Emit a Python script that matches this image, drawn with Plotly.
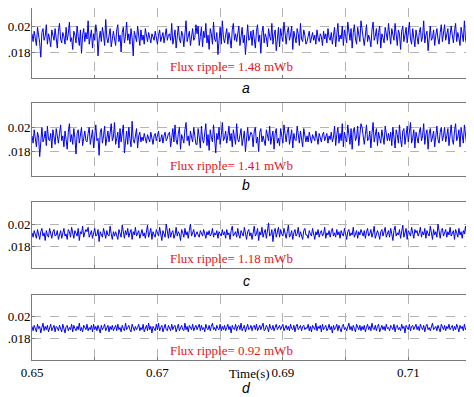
import numpy as np
import plotly.graph_objects as go

# ---------------- data (flux in mWb) ----------------
T_START, T_END = 0.65, 0.72

flux_a = [
    19.4, 18.8, 19.6, 19.1, 18.5, 19.9, 19.3, 18.7, 17.6, 19.5, 19.8, 18.9, 19.2, 20.1, 18.6, 19.4, 19.0, 18.4, 19.7, 19.3, 18.9, 19.8, 19.1, 18.3, 19.6,
    20.2, 19.0, 18.7, 19.5, 19.2, 18.6, 19.9, 18.9, 19.4, 20.3, 18.8, 19.1, 18.2, 19.6, 19.3, 18.7, 20.0, 19.2, 18.5, 19.7, 17.9, 19.3, 19.8, 18.8, 19.5,
    19.0, 20.4, 18.6, 19.2, 19.7, 18.3, 19.4, 18.9, 20.1, 19.5, 17.7, 19.0, 19.6, 18.8, 19.9, 19.3, 18.5, 20.5, 19.1, 18.7, 19.4, 19.8, 18.4, 19.2, 19.6,
    19.0, 18.5, 19.7, 20.1, 18.8, 19.3, 18.0, 19.5, 19.9, 18.7, 19.2, 20.3, 18.9, 19.4, 18.6, 19.8, 19.1, 17.7, 19.6, 19.3, 18.8, 20.0, 19.2, 18.5, 19.7,
    18.9, 19.3, 18.6, 19.8, 19.1, 18.8, 19.5, 19.0, 18.7, 19.4, 19.2, 18.9, 19.6, 19.0, 18.6, 19.3, 19.7, 18.8, 19.1, 19.5, 18.7, 19.2, 19.8, 18.9, 19.3,
    19.4, 18.9, 20.2, 18.6, 19.1, 19.7, 18.3, 19.5, 20.0, 19.0, 18.7, 19.6, 19.3, 18.4, 19.9, 20.4, 18.8, 19.2, 19.6, 18.5, 19.4, 19.8, 18.9, 19.1, 20.1,
    19.4, 20.0, 18.5, 19.2, 19.9, 18.4, 19.6, 19.1, 20.2, 18.7, 19.3, 18.2, 19.8, 19.4, 18.6, 20.3, 19.0, 18.8, 19.5, 17.8, 19.2, 19.9, 18.6, 20.4, 19.1,
    18.7, 19.3, 19.8, 18.6, 19.5, 19.0, 18.3, 19.7, 20.2, 18.9, 19.4, 18.8, 19.6, 20.0, 18.5, 19.2, 19.9, 18.7, 19.3, 17.8, 19.5, 20.1, 18.9, 19.0, 19.6,
    18.5, 19.7, 19.0, 18.3, 19.6, 20.1, 18.8, 19.3, 17.9, 19.5, 20.0, 18.7, 19.4, 19.1, 18.4, 19.8, 19.2, 18.9, 20.2, 18.6, 19.3, 19.7, 18.1, 19.4, 19.9,
    18.4, 19.8, 19.2, 18.8, 20.3, 19.1, 18.6, 19.5, 19.9, 18.9, 19.3, 20.0, 18.2, 19.6, 19.1, 18.7, 19.8, 19.4, 18.5, 20.2, 19.0, 18.8, 19.7, 19.3, 18.6,
    18.8, 19.2, 19.6, 18.7, 19.0, 19.5, 18.9, 19.3, 18.6, 19.7, 19.1, 18.8, 19.4, 19.2, 18.5, 19.6, 19.0, 19.4, 18.7, 19.8, 19.1, 18.9, 19.5, 18.6, 19.3,
    19.9, 18.4, 19.6, 20.2, 18.8, 19.3, 19.0, 20.0, 18.5, 19.7, 19.2, 18.7, 20.3, 19.4, 18.9, 19.8, 18.3, 19.5, 20.1, 19.0, 18.6, 19.9, 19.3, 18.8, 20.4,
    19.9, 19.1, 18.5, 19.6, 20.1, 18.8, 19.3, 19.0, 18.4, 19.7, 20.3, 18.9, 19.2, 19.8, 18.6, 19.5, 20.0, 18.3, 19.4, 19.1, 18.7, 19.9, 19.3, 18.9, 20.2,
    19.1, 18.6, 19.8, 19.3, 18.9, 20.2, 19.0, 18.5, 19.7, 19.4, 18.2, 19.6, 20.0, 18.8, 19.3, 19.9, 18.7, 19.5, 20.3, 19.0, 18.6, 19.8, 19.2, 18.4, 19.7,
    19.0, 18.6, 19.5, 19.9, 18.8, 19.2, 20.4, 18.7, 19.3, 19.6, 18.1, 19.4, 20.0, 18.9, 19.1, 19.7, 18.5, 19.3, 19.8, 19.0, 18.6, 19.5, 20.1, 18.8, 19.4,
    20.1, 18.9, 19.4, 19.8, 18.6, 19.2, 20.0, 19.3, 18.7, 19.6, 20.2, 18.8, 19.5, 19.1, 18.5, 19.9, 19.3, 18.8, 20.4, 19.0, 18.6, 19.7, 19.4, 18.9, 19.5,
]

flux_b = [
    19.3, 18.7, 19.8, 19.0, 18.4, 19.6, 19.2, 17.6, 19.4, 20.0, 18.8, 19.1, 19.7, 18.5, 20.1, 19.0, 18.9, 19.5, 18.3, 19.8, 19.2, 18.6, 19.9, 19.0, 18.7,
    19.5, 20.2, 18.9, 19.3, 18.4, 19.7, 19.0, 18.2, 19.6, 20.3, 18.8, 19.4, 18.6, 19.9, 19.1, 17.8, 19.5, 19.8, 18.7, 19.2, 20.0, 18.5, 19.3, 19.7, 18.9,
    18.8, 19.5, 20.0, 18.6, 19.2, 19.8, 18.3, 19.4, 20.2, 18.9, 19.1, 17.7, 19.6, 19.9, 18.7, 19.3, 20.1, 18.5, 19.0, 19.7, 18.8, 19.4, 20.3, 18.9, 19.2,
    20.4, 18.6, 19.1, 19.6, 18.3, 19.9, 18.8, 19.4, 20.2, 17.9, 19.2, 19.7, 18.6, 20.0, 19.1, 18.4, 20.5, 19.0, 18.7, 19.5, 19.9, 18.3, 19.3, 19.6, 18.8,
    19.2, 18.9, 19.5, 19.0, 18.7, 19.4, 19.1, 18.8, 19.6, 19.0, 18.6, 19.3, 19.5, 18.9, 19.2, 19.7, 18.8, 19.0, 19.4, 18.7, 19.3, 19.6, 18.9, 19.1, 19.5,
    19.6, 18.4, 19.3, 19.9, 18.8, 20.2, 19.0, 18.6, 19.5, 20.0, 18.2, 19.4, 19.1, 18.7, 19.8, 20.4, 18.9, 19.3, 18.5, 19.7, 19.2, 18.8, 20.0, 19.4, 18.6,
    18.6, 19.9, 19.2, 18.3, 20.1, 19.0, 18.7, 19.6, 20.3, 18.5, 19.4, 18.1, 19.8, 19.2, 18.8, 20.2, 19.1, 17.9, 19.5, 19.0, 20.0, 18.6, 19.3, 20.4, 18.9,
    19.1, 19.7, 18.7, 19.3, 20.1, 18.9, 19.5, 18.4, 19.8, 19.2, 18.6, 20.3, 19.0, 18.8, 19.6, 19.9, 18.5, 19.2, 19.7, 18.0, 19.4, 20.0, 18.9, 19.3, 19.6,
    19.4, 18.4, 19.7, 20.0, 18.7, 19.2, 18.0, 19.6, 19.9, 18.8, 19.3, 19.0, 18.5, 19.8, 19.4, 18.9, 20.1, 18.6, 19.2, 19.7, 18.2, 19.5, 19.9, 18.7, 19.1,
    18.5, 19.9, 19.1, 18.7, 20.2, 19.3, 18.8, 19.6, 20.0, 18.6, 19.2, 19.8, 18.3, 19.5, 19.0, 18.9, 20.1, 19.4, 18.7, 19.7, 19.1, 18.4, 19.9, 19.2, 18.8,
    19.3, 18.8, 19.6, 19.0, 18.7, 19.4, 19.2, 18.9, 19.7, 19.1, 18.6, 19.5, 19.0, 18.8, 19.4, 19.6, 18.9, 19.2, 19.5, 18.7, 19.3, 19.0, 19.6, 18.8, 19.2,
    20.1, 18.5, 19.4, 20.0, 18.7, 19.5, 18.9, 20.3, 18.4, 19.6, 19.1, 18.8, 20.2, 19.3, 18.6, 19.9, 18.2, 19.7, 20.0, 18.9, 19.2, 20.1, 18.5, 19.4, 20.3,
    20.0, 19.2, 18.6, 19.4, 20.2, 18.9, 19.0, 19.7, 18.3, 19.5, 20.4, 18.8, 19.3, 19.9, 18.5, 19.6, 19.1, 18.7, 19.8, 19.2, 18.6, 20.1, 19.4, 18.9, 19.5,
    18.9, 19.6, 18.5, 20.0, 19.2, 18.3, 19.8, 19.4, 18.7, 20.2, 19.0, 18.4, 19.7, 19.9, 18.6, 19.3, 20.1, 18.8, 19.5, 20.4, 18.7, 19.1, 19.8, 18.3, 19.6,
    19.1, 18.7, 19.6, 20.0, 18.9, 19.3, 20.3, 18.6, 19.4, 19.8, 18.2, 19.5, 19.9, 18.8, 19.2, 19.7, 18.4, 19.4, 20.1, 19.0, 18.7, 19.6, 20.0, 18.9, 19.3,
    20.0, 18.8, 19.3, 19.9, 18.5, 19.4, 20.2, 19.0, 18.6, 19.7, 20.3, 18.9, 19.2, 19.8, 18.4, 20.0, 19.1, 18.7, 20.2, 19.3, 18.6, 19.6, 19.9, 18.8, 19.4,
]

flux_c = [
    19.2, 18.8, 19.4, 19.0, 18.7, 19.5, 19.1, 18.6, 19.3, 19.6, 18.9, 19.2, 18.5, 19.4, 19.0, 18.8, 19.6, 19.1, 18.7, 19.3, 19.5, 18.9, 19.0, 19.4, 18.6,
    19.0, 19.4, 18.7, 19.2, 19.6, 18.9, 19.1, 18.6, 19.5, 19.3, 18.8, 19.7, 19.0, 18.7, 19.4, 19.2, 18.9, 19.6, 18.5, 19.3, 19.1, 19.8, 18.8, 19.2, 19.5,
    19.3, 19.7, 18.8, 19.1, 19.4, 18.7, 19.2, 19.6, 18.9, 19.0, 19.5, 18.4, 19.3, 19.1, 18.8, 19.6, 19.2, 18.7, 19.4, 19.0, 18.9, 19.8, 19.1, 18.6, 19.3,
    18.9, 19.3, 19.0, 18.6, 19.5, 19.2, 18.8, 19.9, 19.1, 18.7, 19.4, 19.0, 19.6, 18.8, 19.2, 19.5, 18.6, 19.3, 19.0, 19.7, 18.9, 19.1, 19.4, 18.7, 19.3,
    19.5, 18.9, 19.2, 18.7, 19.4, 19.9, 18.8, 19.1, 19.6, 18.6, 19.3, 19.0, 18.8, 19.5, 19.2, 18.9, 19.7, 19.0, 18.5, 19.4, 19.1, 18.8, 20.0, 19.2, 18.7,
    19.6, 18.8, 19.2, 19.4, 18.7, 19.0, 19.7, 18.9, 19.3, 19.1, 18.5, 19.5, 19.2, 18.8, 19.6, 19.0, 19.3, 18.7, 19.4, 20.0, 18.9, 19.2, 19.5, 18.8, 19.1,
    19.3, 19.0, 18.8, 19.4, 19.1, 18.9, 19.5, 19.2, 18.7, 19.3, 19.0, 19.4, 18.9, 19.1, 19.6, 18.8, 19.2, 19.0, 19.4, 18.7, 19.3, 19.1, 18.9, 19.5, 19.0,
    19.3, 18.7, 19.5, 19.0, 19.2, 18.6, 19.4, 19.8, 18.9, 19.1, 19.3, 18.8, 19.6, 19.0, 18.7, 19.4, 19.2, 18.9, 19.7, 19.1, 18.6, 19.3, 19.5, 18.9, 19.2,
    18.6, 19.4, 19.8, 18.9, 19.1, 19.6, 18.5, 19.3, 19.0, 19.7, 18.8, 19.2, 19.5, 18.7, 19.4, 20.1, 18.9, 19.0, 19.5, 18.4, 19.3, 19.6, 18.8, 19.2, 19.7,
    18.8, 19.5, 19.1, 18.9, 19.6, 19.2, 18.7, 19.3, 19.9, 18.8, 19.0, 19.4, 18.6, 19.2, 19.5, 18.9, 19.1, 19.7, 18.8, 19.3, 19.0, 18.6, 19.4, 19.6, 19.0,
    19.0, 18.7, 19.4, 19.1, 18.9, 19.6, 19.2, 18.6, 19.3, 19.0, 19.5, 18.8, 19.2, 19.4, 18.9, 19.1, 19.7, 18.7, 19.2, 19.0, 19.4, 18.8, 19.3, 19.6, 18.9,
    19.2, 18.8, 19.5, 19.0, 19.3, 18.7, 19.4, 19.1, 18.9, 19.6, 19.0, 18.6, 19.3, 19.5, 18.9, 19.2, 19.0, 19.7, 18.8, 19.1, 19.4, 18.7, 19.3, 19.0, 19.5,
    19.2, 18.9, 19.4, 18.7, 19.3, 19.6, 18.9, 19.1, 19.5, 18.8, 19.2, 19.8, 18.7, 19.0, 19.4, 19.1, 18.6, 19.3, 19.5, 18.9, 19.2, 19.7, 18.8, 19.1, 19.4,
    18.8, 19.6, 19.1, 18.5, 19.4, 19.8, 18.9, 19.2, 19.0, 19.5, 18.7, 19.3, 19.9, 18.8, 19.1, 19.6, 18.6, 19.4, 19.2, 18.9, 19.7, 19.0, 18.7, 19.5, 19.2,
    19.4, 18.9, 19.2, 19.7, 18.8, 19.3, 19.0, 19.6, 18.7, 19.4, 19.1, 18.9, 19.8, 19.2, 18.6, 19.5, 19.0, 19.3, 18.8, 20.0, 19.1, 18.7, 19.4, 19.6, 18.9,
    19.2, 19.5, 18.8, 19.3, 19.0, 19.7, 18.9, 19.1, 19.4, 18.6, 19.5, 19.2, 18.8, 19.6, 19.0, 19.3, 18.7, 19.4, 19.1, 19.8, 18.9, 19.2, 19.5, 18.8, 19.3,
]

flux_d = [
    19.1, 18.7, 19.2, 18.8, 18.6, 19.3, 18.9, 19.1, 18.5, 19.0, 19.4, 18.7, 19.1, 18.8, 19.2, 18.6, 19.0, 19.3, 18.7, 18.9, 19.2, 18.6, 19.1, 19.0, 18.7,
    19.2, 18.8, 18.6, 19.3, 18.9, 18.5, 19.1, 19.2, 18.7, 19.0, 18.8, 19.3, 18.6, 19.2, 18.9, 18.7, 19.1, 18.8, 19.4, 18.7, 19.0, 18.6, 19.2, 19.0, 18.8,
    19.3, 18.7, 19.0, 18.8, 19.2, 18.6, 19.3, 18.8, 19.1, 18.7, 19.2, 18.9, 18.5, 19.2, 18.8, 19.0, 19.3, 18.7, 18.9, 19.2, 18.6, 19.1, 18.8, 19.2, 18.7,
    19.0, 19.2, 18.7, 19.3, 18.8, 19.0, 18.6, 19.2, 18.9, 18.7, 19.4, 18.8, 19.0, 19.2, 18.8, 18.6, 19.3, 18.9, 18.7, 19.1, 18.8, 19.0, 19.3, 18.7, 19.0,
    18.8, 19.3, 18.6, 19.0, 19.2, 18.7, 19.4, 18.8, 19.1, 18.5, 19.1, 18.9, 18.7, 19.3, 18.8, 19.4, 18.7, 19.0, 19.2, 18.6, 19.1, 19.3, 18.8, 18.7, 19.2,
    18.9, 18.7, 19.3, 18.8, 19.1, 19.2, 18.6, 19.0, 19.3, 18.7, 18.9, 19.2, 18.8, 18.7, 19.4, 18.8, 19.1, 18.6, 19.2, 18.9, 18.8, 19.3, 18.7, 19.0, 19.2,
    18.8, 19.1, 19.3, 18.7, 19.2, 18.8, 19.0, 18.6, 19.3, 18.9, 18.8, 19.2, 18.7, 19.1, 19.4, 18.8, 19.0, 18.7, 19.2, 18.9, 18.8, 19.3, 18.7, 19.1, 18.8,
    19.2, 18.7, 19.0, 19.3, 18.8, 19.1, 18.5, 19.2, 18.9, 18.8, 19.3, 18.7, 19.1, 19.2, 18.8, 19.4, 18.7, 19.0, 19.2, 18.6, 19.1, 19.3, 18.8, 18.9, 19.2,
    18.7, 19.1, 19.2, 18.8, 19.3, 18.7, 19.0, 19.2, 18.8, 19.1, 19.4, 18.7, 18.8, 19.2, 19.0, 18.6, 19.3, 18.9, 18.8, 19.2, 18.7, 19.0, 19.3, 18.8, 19.1,
    19.2, 18.8, 19.1, 19.3, 18.7, 18.9, 19.2, 18.8, 19.1, 18.7, 19.3, 18.9, 18.8, 19.2, 18.6, 19.1, 19.3, 18.8, 19.0, 19.2, 18.7, 19.1, 19.2, 18.8, 19.0,
    18.9, 19.3, 18.7, 19.1, 18.6, 19.2, 19.0, 18.8, 19.4, 18.7, 19.1, 18.9, 19.2, 18.6, 19.3, 18.8, 19.0, 19.2, 18.7, 18.9, 19.3, 18.8, 19.1, 18.5, 19.2,
    18.8, 19.0, 19.3, 18.7, 19.2, 18.9, 18.6, 19.1, 19.3, 18.8, 19.0, 18.7, 19.2, 19.4, 18.8, 19.1, 18.7, 19.2, 18.9, 18.6, 19.3, 19.0, 18.8, 19.2, 18.7,
    19.1, 18.8, 19.2, 18.6, 19.0, 19.3, 18.8, 19.1, 18.7, 19.4, 18.9, 18.8, 19.2, 18.7, 19.1, 19.3, 18.6, 19.0, 19.2, 18.8, 19.1, 18.7, 19.3, 18.9, 19.0,
    18.7, 19.2, 19.0, 18.8, 19.3, 18.6, 19.1, 19.2, 18.8, 19.0, 18.7, 19.3, 18.9, 19.1, 18.5, 19.2, 19.0, 18.8, 19.3, 18.7, 19.1, 19.2, 18.8, 19.0, 19.3,
    18.8, 19.1, 18.7, 19.3, 19.0, 18.8, 19.2, 18.6, 19.1, 19.3, 18.8, 19.0, 18.7, 19.2, 19.4, 18.8, 19.0, 19.1, 18.7, 19.2, 18.9, 18.6, 19.3, 19.0, 18.8,
    19.2, 18.7, 19.1, 18.9, 19.3, 18.8, 19.0, 19.2, 18.7, 19.1, 18.8, 19.3, 19.0, 18.6, 19.2, 18.9, 19.1, 18.7, 19.3, 18.8, 19.0, 19.2, 18.7, 19.1, 18.9,
]

ripple_texts = ["Flux ripple= 1.48 mWb", "Flux ripple= 1.41 mWb",
                "Flux ripple= 1.18 mWb", "Flux ripple= 0.92 mWb"]
panel_labels = ["a", "b", "c", "d"]

x_tick_vals = [0.65, 0.66, 0.67, 0.68, 0.69, 0.70, 0.71, 0.72]
x_tick_text = ["0.65", "", "0.67", "", "0.69", "", "0.71", ""]
y_tick_vals = [18, 20]          # mWb
y_tick_text = ["0.018", "0.02"]  # shown in Wb

x_title = "Time(s)"

series = [flux_a, flux_b, flux_c, flux_d]
# top panel is cut at the top edge of the picture, the others show [16, 22]
y_ranges = [[16, 21.385], [16, 22], [16, 22], [16, 22]]

# ---------------- figure ----------------
# The page body has an 8px default margin; the figure is sized/positioned so
# that the plot lands where the reference shows it in the 474x397 window.
OFF = 8
W, H = 474 - OFF, 397 - OFF
ML, MR, MT, MB = 24, 3, 0, 37
plot_w = W - ML - MR
plot_h = H - MT - MB

def frac(top_px, bottom_px):
    return [(plot_h - bottom_px) / plot_h, (plot_h - top_px) / plot_h]

# panel extents in figure pixels (screen pixels minus the body offset)
domains = [frac(0, 70), frac(95, 168), frac(194, 260), frac(287, 352)]

AXIS_GRAY = "#7a7a7a"
GRID_GRAY = "#b4b4b4"
FONT = "Liberation Serif"

fig = go.Figure()
layout = dict(
    width=W, height=H, autosize=False,
    margin=dict(l=ML, r=MR, t=MT, b=MB, pad=0, autoexpand=False),
    paper_bgcolor="white", plot_bgcolor="white",
    showlegend=False,
    font=dict(family=FONT, size=13, color="black"),
)

annotations = []
for i, (vals, dom) in enumerate(zip(series, domains)):
    n = i + 1
    xs = "x" if n == 1 else f"x{n}"
    ys = "y" if n == 1 else f"y{n}"
    time = np.linspace(T_START, T_END, len(vals))
    fig.add_trace(go.Scatter(x=time, y=vals, mode="lines",
                             line=dict(color="#0000ff", width=1),
                             xaxis=xs, yaxis=ys, hoverinfo="skip"))
    xkey = "xaxis" if n == 1 else f"xaxis{n}"
    ykey = "yaxis" if n == 1 else f"yaxis{n}"
    layout[xkey] = dict(
        domain=[0, 1], anchor=ys, range=[T_START, T_END], automargin=False,
        tickvals=x_tick_vals, ticktext=x_tick_text,
        showticklabels=(n == 4),
        ticks="inside", ticklen=3, tickcolor=AXIS_GRAY,
        showline=True, linecolor=AXIS_GRAY, linewidth=1,
        mirror=(n != 1),
        showgrid=True, gridcolor=GRID_GRAY, griddash="dash", gridwidth=1,
        zeroline=False,
        tickfont=dict(family=FONT, size=13, color="black"),
    )
    layout[ykey] = dict(
        domain=dom, anchor=xs, range=y_ranges[i], automargin=False,
        tickvals=y_tick_vals, ticktext=y_tick_text,
        ticks="inside", ticklen=3, tickcolor=AXIS_GRAY,
        ticklabelstandoff=-2,
        showline=True, linecolor=AXIS_GRAY, linewidth=1, mirror=True,
        showgrid=True, gridcolor=GRID_GRAY, griddash="dash", gridwidth=1,
        zeroline=False,
        tickfont=dict(family=FONT, size=13, color="black"),
    )
    annotations.append(dict(
        x=0.6818, y=16.85, xref=xs, yref=ys, text=ripple_texts[i],
        showarrow=False, xanchor="center", yanchor="middle",
        font=dict(family=FONT, size=13, color="#e8141c"),
    ))

label_y_px = [80, 177, 273, 380]
for lab, ypx in zip(panel_labels, label_y_px):
    annotations.append(dict(
        x=(238 - ML) / plot_w, y=(plot_h - ypx) / plot_h,
        xref="paper", yref="paper", text=f"<i>{lab}</i>", showarrow=False,
        xanchor="center", yanchor="middle",
        font=dict(family="Liberation Sans", size=14, color="black"),
    ))

annotations.append(dict(
    x=0.6847, y=(plot_h - 365) / plot_h, xref="x4", yref="paper",
    text=x_title, showarrow=False, xanchor="center", yanchor="middle",
    font=dict(family=FONT, size=13, color="black"),
))

layout["annotations"] = annotations
fig.update_layout(**layout)
fig.write_html("out.html")
